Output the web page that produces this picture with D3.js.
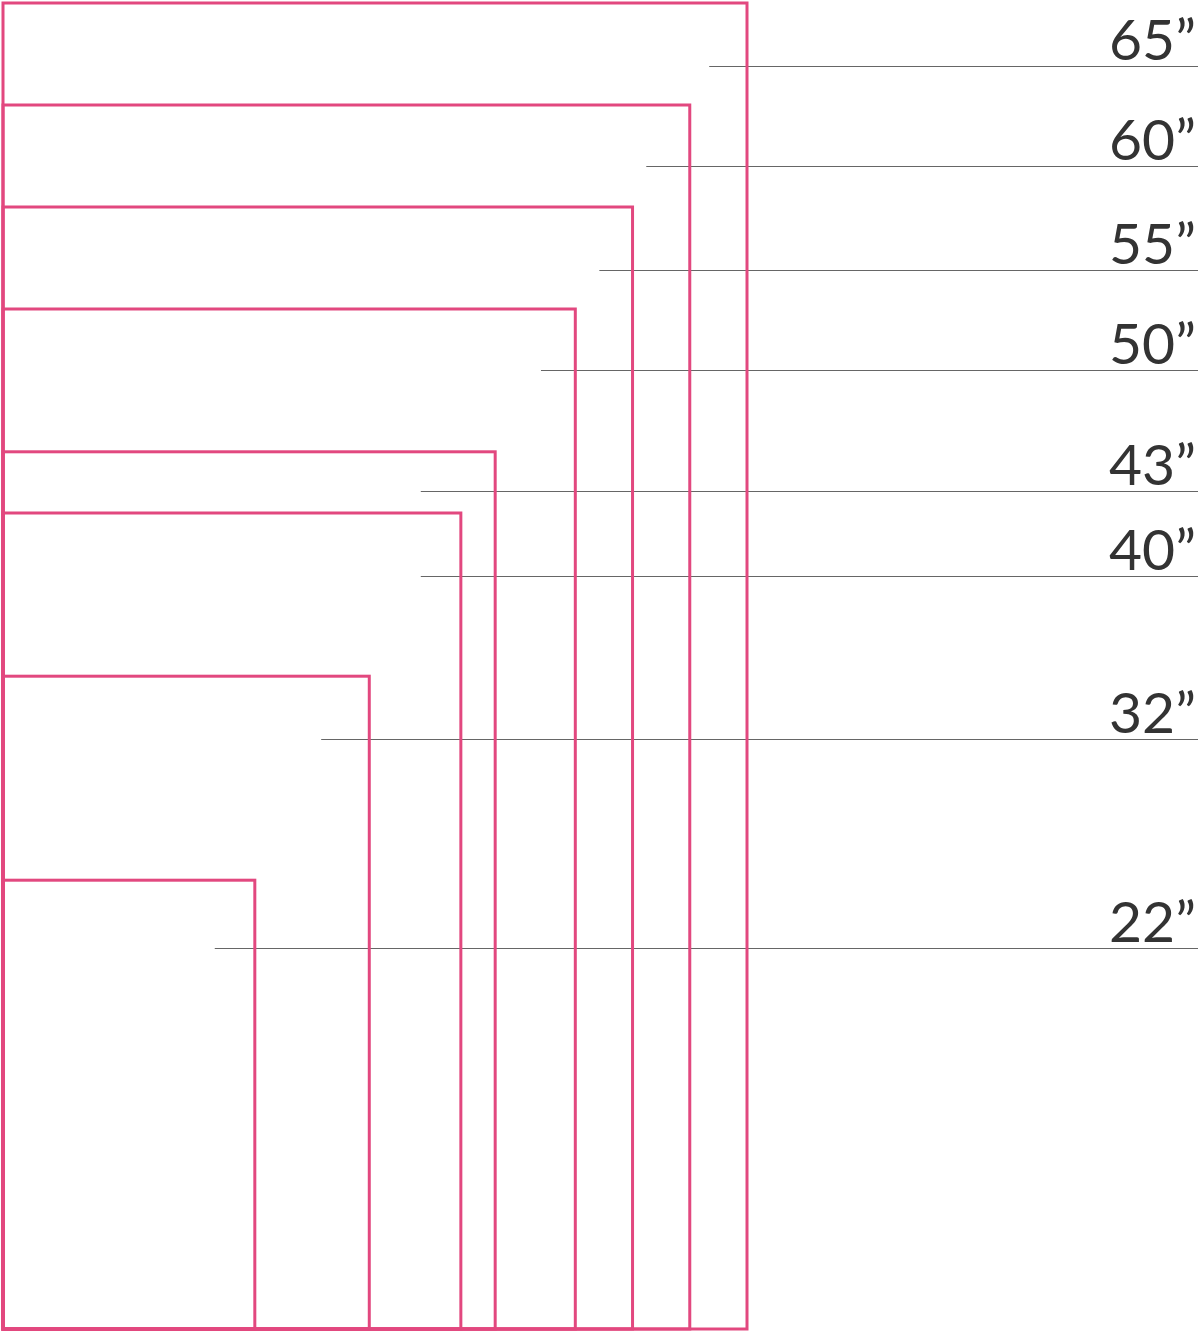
<!DOCTYPE html>
<html><head><meta charset="utf-8">
<script src="https://cdn.jsdelivr.net/npm/d3@7/dist/d3.min.js"></script>
<style>body{margin:0;background:#fff}</style></head>
<body><svg id="c" width="1200" height="1331"></svg>
<script>
const sizes = [65, 60, 55, 50, 43, 40, 32, 22];
const labels = ["65”", "60”", "55”", "50”", "43”", "40”", "32”", "22”"];
const markerLevel = [61.9, 57.0, 51.9, 47.0, 41.1, 36.9, 28.9, 18.7];
const markerStart = [61.7, 56.2, 52.1, 47.0, 36.5, 36.5, 27.8, 18.5];

const svg = d3.select("#c");
const x = d3.scaleLinear().domain([0, 65]).range([3, 747]);
const y = d3.scaleLinear().domain([0, 65]).range([1329, 3]);

svg.selectAll("line.m").data(sizes).enter().append("line")
  .attr("x1", (d,i) => x(markerStart[i])).attr("x2", 1198)
  .attr("y1", (d,i) => Math.round(y(markerLevel[i])) + 0.5)
  .attr("y2", (d,i) => Math.round(y(markerLevel[i])) + 0.5)
  .attr("stroke", "#666").attr("stroke-width", 1);

svg.selectAll("rect").data(sizes).enter().append("rect")
  .attr("x", x(0)).attr("y", d => y(d))
  .attr("width", d => x(d) - x(0)).attr("height", d => y(0) - y(d))
  .attr("fill", "none").attr("stroke", "#e2487f").attr("stroke-width", 3);

svg.selectAll("text").data(sizes).enter().append("text")
  .attr("x", 1196).attr("y", (d,i) => y(markerLevel[i]) - 6)
  .attr("text-anchor", "end").attr("font-family", "Lato, sans-serif")
  .attr("font-size", 57).attr("fill", "#333")
  .text((d,i) => labels[i]);
</script></body></html>
